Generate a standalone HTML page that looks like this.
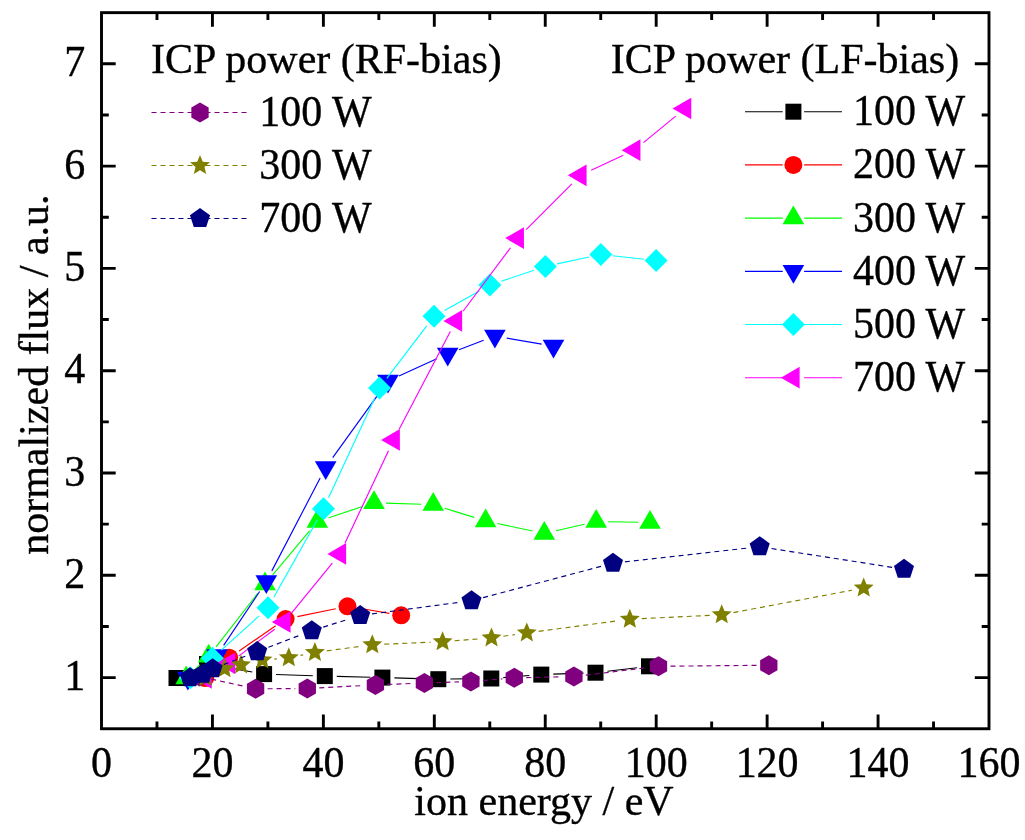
<!DOCTYPE html>
<html><head><meta charset="utf-8"><title>normalized flux vs ion energy</title>
<style>html,body{margin:0;padding:0;background:#fff;} body{width:1025px;height:840px;overflow:hidden;} svg{display:block;}</style>
</head><body>
<svg width="1025" height="840" viewBox="0 0 1025 840">
<rect width="1025" height="840" fill="#fff"/>
<path d="M156.97,728.75v-7.3 M156.97,12.65v7.3 M212.44,728.75v-14.2 M212.44,12.65v14.2 M267.91,728.75v-7.3 M267.91,12.65v7.3 M323.38,728.75v-14.2 M323.38,12.65v14.2 M378.84,728.75v-7.3 M378.84,12.65v7.3 M434.31,728.75v-14.2 M434.31,12.65v14.2 M489.78,728.75v-7.3 M489.78,12.65v7.3 M545.25,728.75v-14.2 M545.25,12.65v14.2 M600.72,728.75v-7.3 M600.72,12.65v7.3 M656.19,728.75v-14.2 M656.19,12.65v14.2 M711.66,728.75v-7.3 M711.66,12.65v7.3 M767.12,728.75v-14.2 M767.12,12.65v14.2 M822.59,728.75v-7.3 M822.59,12.65v7.3 M878.06,728.75v-14.2 M878.06,12.65v14.2 M933.53,728.75v-7.3 M933.53,12.65v7.3 M101.50,677.60h14.2 M989.00,677.60h-14.2 M101.50,626.45h7.3 M989.00,626.45h-7.3 M101.50,575.30h14.2 M989.00,575.30h-14.2 M101.50,524.15h7.3 M989.00,524.15h-7.3 M101.50,473.00h14.2 M989.00,473.00h-14.2 M101.50,421.85h7.3 M989.00,421.85h-7.3 M101.50,370.70h14.2 M989.00,370.70h-14.2 M101.50,319.55h7.3 M989.00,319.55h-7.3 M101.50,268.40h14.2 M989.00,268.40h-14.2 M101.50,217.25h7.3 M989.00,217.25h-7.3 M101.50,166.10h14.2 M989.00,166.10h-14.2 M101.50,114.95h7.3 M989.00,114.95h-7.3 M101.50,63.80h14.2 M989.00,63.80h-14.2" stroke="#000" stroke-width="2.9" fill="none"/>
<rect x="101.50" y="12.65" width="887.50" height="716.10" stroke="#000" stroke-width="2.9" fill="none"/>
<line x1="187.41" y1="672.99" x2="196.09" y2="669.01" stroke="#000000" stroke-width="1.15"/>
<line x1="218.82" y1="666.09" x2="252.28" y2="672.01" stroke="#000000" stroke-width="1.15"/>
<line x1="276.09" y1="674.50" x2="312.81" y2="675.70" stroke="#000000" stroke-width="1.15"/>
<line x1="336.80" y1="676.41" x2="370.40" y2="677.29" stroke="#000000" stroke-width="1.15"/>
<line x1="394.40" y1="677.94" x2="426.30" y2="678.86" stroke="#000000" stroke-width="1.15"/>
<line x1="450.30" y1="679.04" x2="479.30" y2="678.66" stroke="#000000" stroke-width="1.15"/>
<line x1="503.26" y1="677.57" x2="529.34" y2="675.53" stroke="#000000" stroke-width="1.15"/>
<line x1="553.29" y1="674.18" x2="583.51" y2="673.12" stroke="#000000" stroke-width="1.15"/>
<line x1="607.42" y1="671.27" x2="637.08" y2="667.73" stroke="#000000" stroke-width="1.15"/>
<rect x="168.50" y="670.00" width="16.00" height="16.00" fill="#000000"/>
<rect x="199.00" y="656.00" width="16.00" height="16.00" fill="#000000"/>
<rect x="256.10" y="666.10" width="16.00" height="16.00" fill="#000000"/>
<rect x="316.80" y="668.10" width="16.00" height="16.00" fill="#000000"/>
<rect x="374.40" y="669.60" width="16.00" height="16.00" fill="#000000"/>
<rect x="430.30" y="671.20" width="16.00" height="16.00" fill="#000000"/>
<rect x="483.30" y="670.50" width="16.00" height="16.00" fill="#000000"/>
<rect x="533.30" y="666.60" width="16.00" height="16.00" fill="#000000"/>
<rect x="587.50" y="664.70" width="16.00" height="16.00" fill="#000000"/>
<rect x="641.00" y="658.30" width="16.00" height="16.00" fill="#000000"/>
<line x1="214.34" y1="670.33" x2="220.06" y2="665.47" stroke="#ff0000" stroke-width="1.15"/>
<line x1="239.09" y1="650.91" x2="275.71" y2="625.79" stroke="#ff0000" stroke-width="1.15"/>
<line x1="297.36" y1="616.59" x2="335.74" y2="608.71" stroke="#ff0000" stroke-width="1.15"/>
<line x1="359.33" y1="608.28" x2="389.37" y2="613.32" stroke="#ff0000" stroke-width="1.15"/>
<circle cx="205.20" cy="678.10" r="9.00" fill="#ff0000"/>
<circle cx="229.20" cy="657.70" r="9.00" fill="#ff0000"/>
<circle cx="285.60" cy="619.00" r="9.00" fill="#ff0000"/>
<circle cx="347.50" cy="606.30" r="9.00" fill="#ff0000"/>
<circle cx="401.20" cy="615.30" r="9.00" fill="#ff0000"/>
<line x1="194.86" y1="669.59" x2="200.04" y2="664.61" stroke="#00ff00" stroke-width="1.15"/>
<line x1="216.07" y1="646.83" x2="257.63" y2="593.47" stroke="#00ff00" stroke-width="1.15"/>
<line x1="272.71" y1="574.80" x2="309.59" y2="530.80" stroke="#00ff00" stroke-width="1.15"/>
<line x1="328.68" y1="517.81" x2="362.62" y2="506.49" stroke="#00ff00" stroke-width="1.15"/>
<line x1="385.99" y1="503.08" x2="421.21" y2="504.22" stroke="#00ff00" stroke-width="1.15"/>
<line x1="444.65" y1="508.18" x2="474.15" y2="517.42" stroke="#00ff00" stroke-width="1.15"/>
<line x1="497.34" y1="523.50" x2="532.56" y2="531.00" stroke="#00ff00" stroke-width="1.15"/>
<line x1="555.99" y1="530.80" x2="584.51" y2="524.20" stroke="#00ff00" stroke-width="1.15"/>
<line x1="608.20" y1="521.72" x2="638.00" y2="522.28" stroke="#00ff00" stroke-width="1.15"/>
<polygon points="186.20,665.40 197.03,684.15 175.37,684.15" fill="#00ff00"/>
<polygon points="208.70,643.80 219.53,662.55 197.87,662.55" fill="#00ff00"/>
<polygon points="265.00,571.50 275.83,590.25 254.17,590.25" fill="#00ff00"/>
<polygon points="317.30,509.10 328.13,527.85 306.47,527.85" fill="#00ff00"/>
<polygon points="374.00,490.20 384.83,508.95 363.17,508.95" fill="#00ff00"/>
<polygon points="433.20,492.10 444.03,510.85 422.37,510.85" fill="#00ff00"/>
<polygon points="485.60,508.50 496.43,527.25 474.77,527.25" fill="#00ff00"/>
<polygon points="544.30,521.00 555.13,539.75 533.47,539.75" fill="#00ff00"/>
<polygon points="596.20,509.00 607.03,527.75 585.37,527.75" fill="#00ff00"/>
<polygon points="650.00,510.00 660.83,528.75 639.17,528.75" fill="#00ff00"/>
<line x1="197.38" y1="670.64" x2="207.52" y2="662.76" stroke="#0000ff" stroke-width="1.15"/>
<line x1="223.66" y1="645.42" x2="259.64" y2="591.48" stroke="#0000ff" stroke-width="1.15"/>
<line x1="271.84" y1="570.86" x2="320.16" y2="478.04" stroke="#0000ff" stroke-width="1.15"/>
<line x1="332.71" y1="457.66" x2="380.99" y2="390.64" stroke="#0000ff" stroke-width="1.15"/>
<line x1="398.93" y1="375.96" x2="436.77" y2="358.84" stroke="#0000ff" stroke-width="1.15"/>
<line x1="458.93" y1="349.67" x2="483.67" y2="340.33" stroke="#0000ff" stroke-width="1.15"/>
<line x1="506.73" y1="338.12" x2="541.67" y2="344.08" stroke="#0000ff" stroke-width="1.15"/>
<polygon points="187.90,690.50 177.07,671.75 198.73,671.75" fill="#0000ff"/>
<polygon points="217.00,667.90 206.17,649.15 227.83,649.15" fill="#0000ff"/>
<polygon points="266.30,594.00 255.47,575.25 277.13,575.25" fill="#0000ff"/>
<polygon points="325.70,479.90 314.87,461.15 336.53,461.15" fill="#0000ff"/>
<polygon points="388.00,393.40 377.17,374.65 398.83,374.65" fill="#0000ff"/>
<polygon points="447.70,366.40 436.87,347.65 458.53,347.65" fill="#0000ff"/>
<polygon points="494.90,348.60 484.07,329.85 505.73,329.85" fill="#0000ff"/>
<polygon points="553.50,358.60 542.67,339.85 564.33,339.85" fill="#0000ff"/>
<line x1="199.30" y1="669.76" x2="203.40" y2="666.14" stroke="#00ffff" stroke-width="1.15"/>
<line x1="221.29" y1="650.14" x2="259.11" y2="615.86" stroke="#00ffff" stroke-width="1.15"/>
<line x1="273.86" y1="597.33" x2="317.64" y2="519.17" stroke="#00ffff" stroke-width="1.15"/>
<line x1="328.55" y1="497.81" x2="374.45" y2="398.79" stroke="#00ffff" stroke-width="1.15"/>
<line x1="386.77" y1="378.35" x2="426.73" y2="325.85" stroke="#00ffff" stroke-width="1.15"/>
<line x1="444.48" y1="310.45" x2="479.42" y2="290.95" stroke="#00ffff" stroke-width="1.15"/>
<line x1="501.27" y1="281.27" x2="534.03" y2="270.23" stroke="#00ffff" stroke-width="1.15"/>
<line x1="557.13" y1="263.86" x2="589.07" y2="256.94" stroke="#00ffff" stroke-width="1.15"/>
<line x1="612.73" y1="255.74" x2="644.17" y2="259.26" stroke="#00ffff" stroke-width="1.15"/>
<polygon points="190.30,666.20 201.80,677.70 190.30,689.20 178.80,677.70" fill="#00ffff"/>
<polygon points="212.40,646.70 223.90,658.20 212.40,669.70 200.90,658.20" fill="#00ffff"/>
<polygon points="268.00,596.30 279.50,607.80 268.00,619.30 256.50,607.80" fill="#00ffff"/>
<polygon points="323.50,497.20 335.00,508.70 323.50,520.20 312.00,508.70" fill="#00ffff"/>
<polygon points="379.50,376.40 391.00,387.90 379.50,399.40 368.00,387.90" fill="#00ffff"/>
<polygon points="434.00,304.80 445.50,316.30 434.00,327.80 422.50,316.30" fill="#00ffff"/>
<polygon points="489.90,273.60 501.40,285.10 489.90,296.60 478.40,285.10" fill="#00ffff"/>
<polygon points="545.40,254.90 556.90,266.40 545.40,277.90 533.90,266.40" fill="#00ffff"/>
<polygon points="600.80,242.90 612.30,254.40 600.80,265.90 589.30,254.40" fill="#00ffff"/>
<polygon points="656.10,249.10 667.60,260.60 656.10,272.10 644.60,260.60" fill="#00ffff"/>
<line x1="215.71" y1="671.50" x2="218.79" y2="669.60" stroke="#ff00ff" stroke-width="1.15"/>
<line x1="238.61" y1="656.12" x2="274.69" y2="629.18" stroke="#ff00ff" stroke-width="1.15"/>
<line x1="291.89" y1="612.70" x2="332.31" y2="563.20" stroke="#ff00ff" stroke-width="1.15"/>
<line x1="345.01" y1="543.04" x2="388.49" y2="450.76" stroke="#ff00ff" stroke-width="1.15"/>
<line x1="399.17" y1="429.27" x2="450.33" y2="331.53" stroke="#ff00ff" stroke-width="1.15"/>
<line x1="463.08" y1="311.28" x2="510.52" y2="247.72" stroke="#ff00ff" stroke-width="1.15"/>
<line x1="526.17" y1="229.60" x2="571.83" y2="183.80" stroke="#ff00ff" stroke-width="1.15"/>
<line x1="591.18" y1="170.23" x2="623.32" y2="155.27" stroke="#ff00ff" stroke-width="1.15"/>
<line x1="643.48" y1="142.59" x2="675.72" y2="116.11" stroke="#ff00ff" stroke-width="1.15"/>
<polygon points="193.00,677.80 211.75,666.97 211.75,688.63" fill="#ff00ff"/>
<polygon points="216.50,663.30 235.25,652.47 235.25,674.13" fill="#ff00ff"/>
<polygon points="271.80,622.00 290.55,611.17 290.55,632.83" fill="#ff00ff"/>
<polygon points="327.40,553.90 346.15,543.07 346.15,564.73" fill="#ff00ff"/>
<polygon points="381.10,439.90 399.85,429.07 399.85,450.73" fill="#ff00ff"/>
<polygon points="443.40,320.90 462.15,310.07 462.15,331.73" fill="#ff00ff"/>
<polygon points="505.20,238.10 523.95,227.27 523.95,248.93" fill="#ff00ff"/>
<polygon points="567.80,175.30 586.55,164.47 586.55,186.13" fill="#ff00ff"/>
<polygon points="621.70,150.20 640.45,139.37 640.45,161.03" fill="#ff00ff"/>
<polygon points="672.50,108.50 691.25,97.67 691.25,119.33" fill="#ff00ff"/>
<line x1="211.22" y1="679.07" x2="243.88" y2="686.23" stroke="#800080" stroke-width="1.15" stroke-dasharray="5,4"/>
<line x1="267.60" y1="688.73" x2="295.30" y2="688.57" stroke="#800080" stroke-width="1.15" stroke-dasharray="5,4"/>
<line x1="319.28" y1="687.87" x2="363.42" y2="685.53" stroke="#800080" stroke-width="1.15" stroke-dasharray="5,4"/>
<line x1="387.39" y1="684.44" x2="412.41" y2="683.46" stroke="#800080" stroke-width="1.15" stroke-dasharray="5,4"/>
<line x1="436.39" y1="682.61" x2="458.91" y2="681.89" stroke="#800080" stroke-width="1.15" stroke-dasharray="5,4"/>
<line x1="482.86" y1="680.48" x2="502.34" y2="678.82" stroke="#800080" stroke-width="1.15" stroke-dasharray="5,4"/>
<line x1="526.30" y1="677.56" x2="561.90" y2="676.84" stroke="#800080" stroke-width="1.15" stroke-dasharray="5,4"/>
<line x1="585.81" y1="675.15" x2="646.59" y2="667.75" stroke="#800080" stroke-width="1.15" stroke-dasharray="5,4"/>
<line x1="670.50" y1="666.18" x2="756.80" y2="665.32" stroke="#800080" stroke-width="1.15" stroke-dasharray="5,4"/>
<polygon points="199.50,666.50 208.16,671.50 208.16,681.50 199.50,686.50 190.84,681.50 190.84,671.50" fill="#800080"/>
<polygon points="255.60,678.80 264.26,683.80 264.26,693.80 255.60,698.80 246.94,693.80 246.94,683.80" fill="#800080"/>
<polygon points="307.30,678.50 315.96,683.50 315.96,693.50 307.30,698.50 298.64,693.50 298.64,683.50" fill="#800080"/>
<polygon points="375.40,674.90 384.06,679.90 384.06,689.90 375.40,694.90 366.74,689.90 366.74,679.90" fill="#800080"/>
<polygon points="424.40,673.00 433.06,678.00 433.06,688.00 424.40,693.00 415.74,688.00 415.74,678.00" fill="#800080"/>
<polygon points="470.90,671.50 479.56,676.50 479.56,686.50 470.90,691.50 462.24,686.50 462.24,676.50" fill="#800080"/>
<polygon points="514.30,667.80 522.96,672.80 522.96,682.80 514.30,687.80 505.64,682.80 505.64,672.80" fill="#800080"/>
<polygon points="573.90,666.60 582.56,671.60 582.56,681.60 573.90,686.60 565.24,681.60 565.24,671.60" fill="#800080"/>
<polygon points="658.50,656.30 667.16,661.30 667.16,671.30 658.50,676.30 649.84,671.30 649.84,661.30" fill="#800080"/>
<polygon points="768.80,655.20 777.46,660.20 777.46,670.20 768.80,675.20 760.14,670.20 760.14,660.20" fill="#800080"/>
<line x1="274.35" y1="659.06" x2="276.85" y2="658.84" stroke="#808000" stroke-width="1.15" stroke-dasharray="5,4"/>
<line x1="300.56" y1="655.41" x2="303.14" y2="654.89" stroke="#808000" stroke-width="1.15" stroke-dasharray="5,4"/>
<line x1="326.79" y1="650.88" x2="360.41" y2="646.32" stroke="#808000" stroke-width="1.15" stroke-dasharray="5,4"/>
<line x1="384.29" y1="644.19" x2="430.61" y2="642.21" stroke="#808000" stroke-width="1.15" stroke-dasharray="5,4"/>
<line x1="454.56" y1="640.77" x2="479.54" y2="638.83" stroke="#808000" stroke-width="1.15" stroke-dasharray="5,4"/>
<line x1="503.38" y1="636.22" x2="514.92" y2="634.58" stroke="#808000" stroke-width="1.15" stroke-dasharray="5,4"/>
<line x1="538.70" y1="631.32" x2="617.90" y2="620.78" stroke="#808000" stroke-width="1.15" stroke-dasharray="5,4"/>
<line x1="641.79" y1="618.63" x2="709.71" y2="615.37" stroke="#808000" stroke-width="1.15" stroke-dasharray="5,4"/>
<line x1="733.49" y1="612.57" x2="851.91" y2="590.23" stroke="#808000" stroke-width="1.15" stroke-dasharray="5,4"/>
<polygon points="205.50,667.00 208.28,673.68 215.49,674.26 209.99,678.96 211.67,685.99 205.50,682.23 199.33,685.99 201.01,678.96 195.51,674.26 202.72,673.68" fill="#808000"/>
<polygon points="224.50,658.30 227.28,664.98 234.49,665.56 228.99,670.26 230.67,677.29 224.50,673.52 218.33,677.29 220.01,670.26 214.51,665.56 221.72,664.98" fill="#808000"/>
<polygon points="241.00,654.40 243.78,661.08 250.99,661.66 245.49,666.36 247.17,673.39 241.00,669.62 234.83,673.39 236.51,666.36 231.01,661.66 238.22,661.08" fill="#808000"/>
<polygon points="262.40,649.60 265.18,656.28 272.39,656.86 266.89,661.56 268.57,668.59 262.40,664.83 256.23,668.59 257.91,661.56 252.41,656.86 259.62,656.28" fill="#808000"/>
<polygon points="288.80,647.30 291.58,653.98 298.79,654.56 293.29,659.26 294.97,666.29 288.80,662.52 282.63,666.29 284.31,659.26 278.81,654.56 286.02,653.98" fill="#808000"/>
<polygon points="314.90,642.00 317.68,648.68 324.89,649.26 319.39,653.96 321.07,660.99 314.90,657.23 308.73,660.99 310.41,653.96 304.91,649.26 312.12,648.68" fill="#808000"/>
<polygon points="372.30,634.20 375.08,640.88 382.29,641.46 376.79,646.16 378.47,653.19 372.30,649.43 366.13,653.19 367.81,646.16 362.31,641.46 369.52,640.88" fill="#808000"/>
<polygon points="442.60,631.20 445.38,637.88 452.59,638.46 447.09,643.16 448.77,650.19 442.60,646.43 436.43,650.19 438.11,643.16 432.61,638.46 439.82,637.88" fill="#808000"/>
<polygon points="491.50,627.40 494.28,634.08 501.49,634.66 495.99,639.36 497.67,646.39 491.50,642.62 485.33,646.39 487.01,639.36 481.51,634.66 488.72,634.08" fill="#808000"/>
<polygon points="526.80,622.40 529.58,629.08 536.79,629.66 531.29,634.36 532.97,641.39 526.80,637.62 520.63,641.39 522.31,634.36 516.81,629.66 524.02,629.08" fill="#808000"/>
<polygon points="629.80,608.70 632.58,615.38 639.79,615.96 634.29,620.66 635.97,627.69 629.80,623.93 623.63,627.69 625.31,620.66 619.81,615.96 627.02,615.38" fill="#808000"/>
<polygon points="721.70,604.30 724.48,610.98 731.69,611.56 726.19,616.26 727.87,623.29 721.70,619.52 715.53,623.29 717.21,616.26 711.71,611.56 718.92,610.98" fill="#808000"/>
<polygon points="863.70,577.50 866.48,584.18 873.69,584.76 868.19,589.46 869.87,596.49 863.70,592.73 857.53,596.49 859.21,589.46 853.71,584.76 860.92,584.18" fill="#808000"/>
<line x1="223.80" y1="664.48" x2="246.00" y2="655.92" stroke="#000080" stroke-width="1.15" stroke-dasharray="5,4"/>
<line x1="268.41" y1="647.31" x2="300.59" y2="634.99" stroke="#000080" stroke-width="1.15" stroke-dasharray="5,4"/>
<line x1="323.25" y1="627.10" x2="348.75" y2="619.10" stroke="#000080" stroke-width="1.15" stroke-dasharray="5,4"/>
<line x1="372.10" y1="613.92" x2="459.60" y2="602.28" stroke="#000080" stroke-width="1.15" stroke-dasharray="5,4"/>
<line x1="483.10" y1="597.63" x2="601.40" y2="566.27" stroke="#000080" stroke-width="1.15" stroke-dasharray="5,4"/>
<line x1="624.92" y1="561.86" x2="747.78" y2="548.04" stroke="#000080" stroke-width="1.15" stroke-dasharray="5,4"/>
<line x1="771.56" y1="548.55" x2="892.14" y2="567.35" stroke="#000080" stroke-width="1.15" stroke-dasharray="5,4"/>
<polygon points="190.00,667.14 200.04,674.44 196.21,686.24 183.79,686.24 179.96,674.44" fill="#000080"/>
<polygon points="202.80,663.74 212.84,671.04 209.01,682.84 196.59,682.84 192.76,671.04" fill="#000080"/>
<polygon points="212.60,658.24 222.64,665.54 218.81,677.34 206.39,677.34 202.56,665.54" fill="#000080"/>
<polygon points="257.20,641.04 267.24,648.34 263.41,660.14 250.99,660.14 247.16,648.34" fill="#000080"/>
<polygon points="311.80,620.14 321.84,627.44 318.01,639.24 305.59,639.24 301.76,627.44" fill="#000080"/>
<polygon points="360.20,604.94 370.24,612.24 366.41,624.04 353.99,624.04 350.16,612.24" fill="#000080"/>
<polygon points="471.50,590.14 481.54,597.44 477.71,609.24 465.29,609.24 461.46,597.44" fill="#000080"/>
<polygon points="613.00,552.64 623.04,559.94 619.21,571.74 606.79,571.74 602.96,559.94" fill="#000080"/>
<polygon points="759.70,536.14 769.74,543.44 765.91,555.24 753.49,555.24 749.66,543.44" fill="#000080"/>
<polygon points="904.00,558.64 914.04,565.94 910.21,577.74 897.79,577.74 893.96,565.94" fill="#000080"/>
<line x1="151.5" y1="112.50" x2="249" y2="112.50" stroke="#800080" stroke-width="1.15" stroke-dasharray="5,4"/>
<polygon points="200.00,102.50 208.66,107.50 208.66,117.50 200.00,122.50 191.34,117.50 191.34,107.50" fill="#800080"/>
<line x1="151.5" y1="165.50" x2="249" y2="165.50" stroke="#808000" stroke-width="1.15" stroke-dasharray="5,4"/>
<polygon points="200.00,155.00 202.78,161.68 209.99,162.26 204.49,166.96 206.17,173.99 200.00,170.22 193.83,173.99 195.51,166.96 190.01,162.26 197.22,161.68" fill="#808000"/>
<line x1="151.5" y1="218.50" x2="249" y2="218.50" stroke="#000080" stroke-width="1.15" stroke-dasharray="5,4"/>
<polygon points="200.00,207.94 210.04,215.24 206.21,227.04 193.79,227.04 189.96,215.24" fill="#000080"/>
<line x1="745" y1="111.70" x2="782.7" y2="111.70" stroke="#000000" stroke-width="1.15"/>
<line x1="804.1" y1="111.70" x2="842" y2="111.70" stroke="#000000" stroke-width="1.15"/>
<rect x="785.40" y="103.70" width="16.00" height="16.00" fill="#000000"/>
<line x1="745" y1="164.90" x2="782.7" y2="164.90" stroke="#ff0000" stroke-width="1.15"/>
<line x1="804.1" y1="164.90" x2="842" y2="164.90" stroke="#ff0000" stroke-width="1.15"/>
<circle cx="793.40" cy="164.90" r="9.00" fill="#ff0000"/>
<line x1="745" y1="218.10" x2="782.7" y2="218.10" stroke="#00ff00" stroke-width="1.15"/>
<line x1="804.1" y1="218.10" x2="842" y2="218.10" stroke="#00ff00" stroke-width="1.15"/>
<polygon points="793.40,205.60 804.23,224.35 782.57,224.35" fill="#00ff00"/>
<line x1="745" y1="271.30" x2="782.7" y2="271.30" stroke="#0000ff" stroke-width="1.15"/>
<line x1="804.1" y1="271.30" x2="842" y2="271.30" stroke="#0000ff" stroke-width="1.15"/>
<polygon points="793.40,283.80 782.57,265.05 804.23,265.05" fill="#0000ff"/>
<line x1="745" y1="324.50" x2="782.7" y2="324.50" stroke="#00ffff" stroke-width="1.15"/>
<line x1="804.1" y1="324.50" x2="842" y2="324.50" stroke="#00ffff" stroke-width="1.15"/>
<polygon points="793.40,313.00 804.90,324.50 793.40,336.00 781.90,324.50" fill="#00ffff"/>
<line x1="745" y1="377.70" x2="782.7" y2="377.70" stroke="#ff00ff" stroke-width="1.15"/>
<line x1="804.1" y1="377.70" x2="842" y2="377.70" stroke="#ff00ff" stroke-width="1.15"/>
<polygon points="780.90,377.70 799.65,366.87 799.65,388.53" fill="#ff00ff"/>
<g font-family='"Liberation Serif", "Times New Roman", serif' font-size="42" fill="#000" stroke="#000" stroke-width="0.35">
<text transform="translate(101.50,776.5) scale(1,1.04)" text-anchor="middle">0</text>
<text transform="translate(212.44,776.5) scale(1,1.04)" text-anchor="middle">20</text>
<text transform="translate(323.38,776.5) scale(1,1.04)" text-anchor="middle">40</text>
<text transform="translate(434.31,776.5) scale(1,1.04)" text-anchor="middle">60</text>
<text transform="translate(545.25,776.5) scale(1,1.04)" text-anchor="middle">80</text>
<text transform="translate(656.19,776.5) scale(1,1.04)" text-anchor="middle">100</text>
<text transform="translate(767.12,776.5) scale(1,1.04)" text-anchor="middle">120</text>
<text transform="translate(878.06,776.5) scale(1,1.04)" text-anchor="middle">140</text>
<text transform="translate(989.00,776.5) scale(1,1.04)" text-anchor="middle">160</text>
<text transform="translate(85.3,690.20) scale(1,1.04)" text-anchor="end">1</text>
<text transform="translate(85.3,587.90) scale(1,1.04)" text-anchor="end">2</text>
<text transform="translate(85.3,485.60) scale(1,1.04)" text-anchor="end">3</text>
<text transform="translate(85.3,383.30) scale(1,1.04)" text-anchor="end">4</text>
<text transform="translate(85.3,281.00) scale(1,1.04)" text-anchor="end">5</text>
<text transform="translate(85.3,178.70) scale(1,1.04)" text-anchor="end">6</text>
<text transform="translate(85.3,76.40) scale(1,1.04)" text-anchor="end">7</text>
<text x="544" y="814.8" text-anchor="middle">ion energy / eV</text>
<text transform="translate(48.3,374.6) rotate(-90)" text-anchor="middle">normalized flux / a.u.</text>
<text x="151" y="72.8">ICP power (RF-bias)</text>
<text x="610.8" y="72.8">ICP power (LF-bias)</text>
<text transform="translate(259.3,126.00) scale(1,1.04)">100 W</text>
<text transform="translate(259.3,179.00) scale(1,1.04)">300 W</text>
<text transform="translate(259.3,232.00) scale(1,1.04)">700 W</text>
<text transform="translate(852.9,125.20) scale(1,1.04)">100 W</text>
<text transform="translate(852.9,178.40) scale(1,1.04)">200 W</text>
<text transform="translate(852.9,231.60) scale(1,1.04)">300 W</text>
<text transform="translate(852.9,284.80) scale(1,1.04)">400 W</text>
<text transform="translate(852.9,338.00) scale(1,1.04)">500 W</text>
<text transform="translate(852.9,391.20) scale(1,1.04)">700 W</text>
</g>
</svg>
</body></html>
